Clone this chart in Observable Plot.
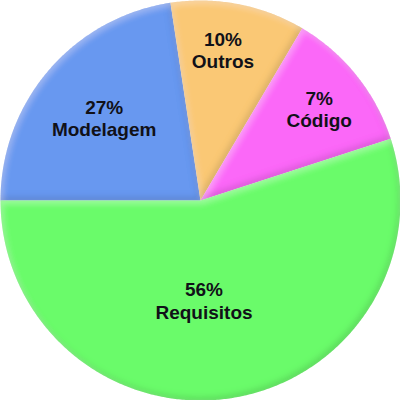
<!DOCTYPE html>
<html>
<head>
<meta charset="utf-8">
<script src="https://cdn.jsdelivr.net/npm/d3@7"></script>
<script src="https://cdn.jsdelivr.net/npm/@observablehq/plot@0.6"></script>
<style>
  html, body { margin: 0; padding: 0; background: #fff; }
  #chart svg { display: block; }
</style>
</head>
<body>
<div id="chart"></div>
<script>
// ---- data ----
const categories = ["Modelagem", "Outros", "Código", "Requisitos"];
const sliceShares = [22.6, 10.9, 11.5, 55.0];        // angular share of each slice as drawn
const labelTexts  = ["27%", "10%", "7%", "56%"];      // printed percentages
const colors      = ["#6898f0", "#fac874", "#fb68f8", "#6afb6a"];

// ---- layout ----
const W = 400, H = 400;
const labelRadius = {"Modelagem": 0.635, "Outros": 0.76, "Código": 0.75, "Requisitos": 0.5};
const labelTurnDeg = {"Modelagem": 0, "Outros": -2.5, "Código": 1, "Requisitos": 7};

const pie = d3.pie().sort(null).value(d => d.share)
  .startAngle(-Math.PI / 2).endAngle(3 * Math.PI / 2);
const rows = categories.map((c, i) => ({cat: c, share: sliceShares[i], label: labelTexts[i]}));
const arcs = pie(rows);

// polygon points in unit-circle coordinates (angle clockwise from 12 o'clock)
const pts = [];
for (const a of arcs) {
  const cat = a.data.cat;
  pts.push({cat, x: 0, y: 0});
  const n = Math.max(2, Math.ceil((a.endAngle - a.startAngle) / (Math.PI / 360)));
  for (let k = 0; k <= n; k++) {
    const t = a.startAngle + (a.endAngle - a.startAngle) * k / n;
    pts.push({cat, x: Math.sin(t), y: Math.cos(t)});
  }
  pts.push({cat, x: 0, y: 0});
}
const labels = arcs.map(a => {
  const m = (a.startAngle + a.endAngle) / 2 + labelTurnDeg[a.data.cat] * Math.PI / 180;
  const r = labelRadius[a.data.cat];
  return {cat: a.data.cat, x: r * Math.sin(m), y: r * Math.cos(m), text: a.data.label + "\n" + a.data.cat};
});

const chart = Plot.plot({
  width: W, height: H,
  margin: 0,
  x: {domain: [-1, 1], axis: null},
  y: {domain: [-1, 1], axis: null},
  color: {domain: categories, range: colors},
  style: {background: "#fff"},
  marks: [
    Plot.line(pts, {x: "x", y: "y", z: "cat", fill: "cat", stroke: null, curve: "linear"}),
    Plot.text(labels, {
      x: "x", y: "y", text: "text",
      fontFamily: "Liberation Sans, Arial, sans-serif",
      fontWeight: "bold", fontSize: 19, lineHeight: 1.16,
      fill: "#111118", lineAnchor: "middle", textAnchor: "middle"
    })
  ]
});

// soft bevel shading on the slices
const svg = d3.select(chart);
const defs = svg.insert("defs", ":first-child");
const f = defs.append("filter").attr("id", "bevel")
  .attr("x", "-5%").attr("y", "-5%").attr("width", "110%").attr("height", "110%");
f.append("feGaussianBlur").attr("in", "SourceAlpha").attr("stdDeviation", 3).attr("result", "blur");
f.append("feOffset").attr("in", "blur").attr("dx", -2).attr("dy", -3).attr("result", "off");
f.append("feComposite").attr("in", "SourceAlpha").attr("in2", "off").attr("operator", "out").attr("result", "inner");
f.append("feFlood").attr("flood-color", "#000").attr("flood-opacity", 0.28);
f.append("feComposite").attr("in2", "inner").attr("operator", "in").attr("result", "shadow");
f.append("feOffset").attr("in", "blur").attr("dx", 2).attr("dy", 3).attr("result", "off2");
f.append("feComposite").attr("in", "SourceAlpha").attr("in2", "off2").attr("operator", "out").attr("result", "inner2");
f.append("feFlood").attr("flood-color", "#fff").attr("flood-opacity", 0.25);
f.append("feComposite").attr("in2", "inner2").attr("operator", "in").attr("result", "light");
const merge = f.append("feMerge");
merge.append("feMergeNode").attr("in", "SourceGraphic");
merge.append("feMergeNode").attr("in", "shadow");
merge.append("feMergeNode").attr("in", "light");
svg.selectAll("g[aria-label='line'] path").attr("filter", "url(#bevel)");

document.getElementById("chart").appendChild(chart);
</script>
</body>
</html>
